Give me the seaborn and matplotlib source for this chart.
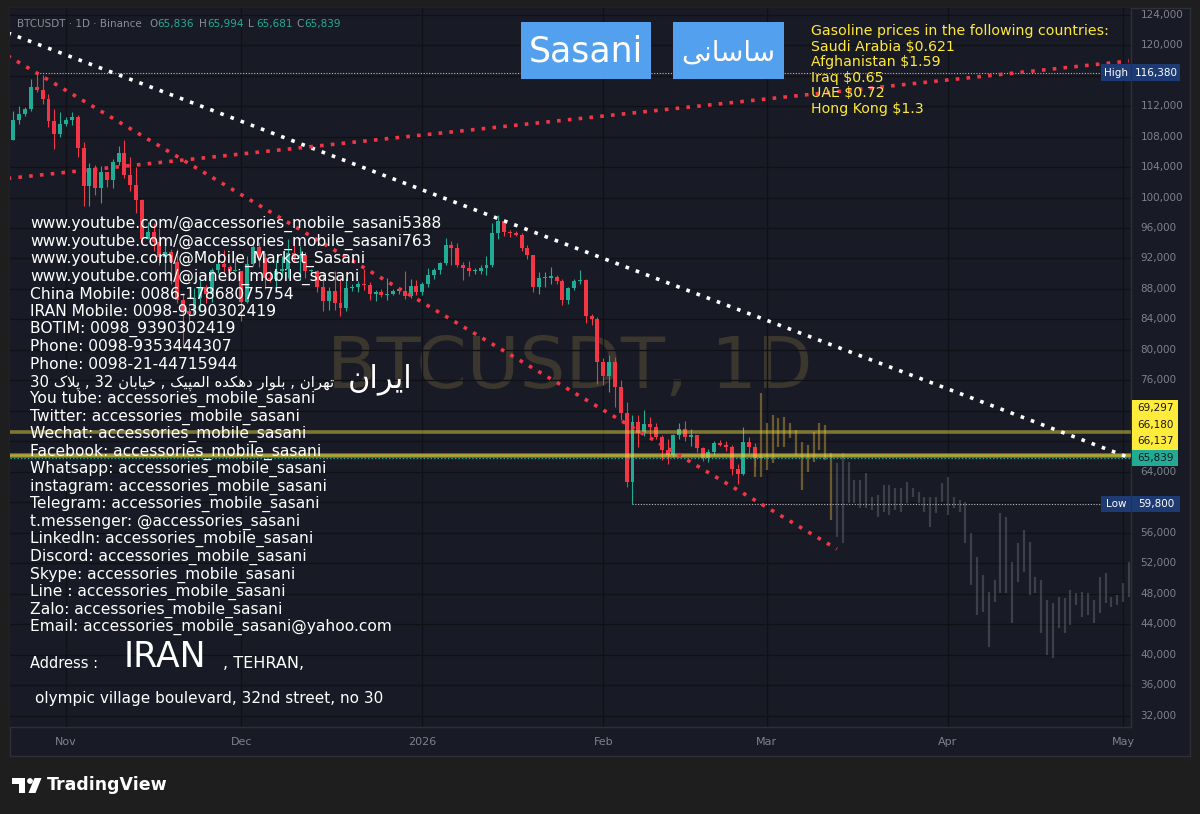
import re
import numpy as np
import pandas as pd
import matplotlib
matplotlib.use('Agg')
import matplotlib.pyplot as plt
from matplotlib.patches import Rectangle, Circle, Polygon
import seaborn as sns

# ---------------- data ----------------
candle_start = '2025-10-23'
opens = [107600, 110100, 111000, 111600, 114500, 114100, 112900, 110000, 108300,
         109600, 110100, 110500, 106500, 101500, 103900, 101300, 103300, 102300, 104700,
         105900, 103000, 101600, 99700, 94500, 95500, 94200, 92200, 92900, 91500,
         86600, 85100, 84700, 86800, 88300, 87300, 90500, 91300, 90900, 90400,
         90400, 86300, 91300, 93500, 92100, 89400, 89300, 90400, 90600, 92700,
         92000, 92500, 90300, 90300, 88200, 86400, 87800, 86100, 85500, 88100,
         88300, 88600, 88500, 87400, 87600, 87200, 87300, 87800, 87800, 87100, 88400,
         87600, 88700, 89900, 90500, 91400, 93800, 93400, 91100, 90700, 90300,
         90400, 90800, 91100, 95300, 96900, 95500, 95300, 95100, 93400, 92500,
         88300, 89400, 89500, 89600, 89100, 86500, 88100, 89000, 89200, 84400, 84100,
         78400, 76600, 78400, 75200, 71700, 62700, 70500, 69100, 70300, 69900,
         68600, 66900, 66200, 68800, 69600, 68600, 68800, 67100, 65900, 66600,
         67800, 67600, 67300, 64400, 63700, 67900, 67300, 65836]
highs = [111300, 112000, 111900, 115500, 116380, 116100, 113600, 111600, 111200,
         110600, 111200, 110800, 107300, 104500, 104200, 104100, 103400, 105000, 106700,
         107500, 105300, 104000, 99800, 96800, 96600, 96000, 93800, 93200, 93200,
         87500, 85600, 88100, 89200, 88500, 90700, 91900, 93100, 91200, 92000,
         90400, 92300, 94200, 94100, 92700, 90300, 91800, 92300, 94600, 94500,
         93600, 92800, 90600, 90500, 90100, 88200, 90400, 89500, 89400, 88600,
         89100, 90600, 88900, 87900, 88000, 89500, 88000, 88000, 90400, 89300, 89200,
         88900, 90700, 90800, 91600, 94700, 94300, 94000, 91600, 91700, 90700,
         91200, 92300, 96600, 97700, 97200, 95800, 95600, 95300, 93800, 92500,
         90200, 90200, 90900, 89900, 89300, 88300, 89300, 90500, 89300, 84700, 84300,
         79000, 79300, 79100, 76000, 73200, 71500, 71500, 72100, 71200, 70400,
         68900, 68300, 69000, 70400, 70700, 69600, 68900, 67300, 67000, 68000,
         68200, 68000, 67600, 65000, 69900, 68600, 67800, 65994]
lows = [107500, 109700, 110700, 111300, 113800, 112200, 109200, 106300, 108000,
        109400, 109500, 105300, 98900, 98900, 100300, 99300, 101400, 101300, 104300,
        102500, 100800, 98000, 94000, 94500, 93000, 91200, 89300, 88600, 86100,
        80600, 83500, 84600, 85300, 86100, 86300, 90100, 90200, 90300, 90300,
        83800, 86200, 91000, 90900, 88000, 88900, 87700, 89600, 89500, 91600,
        89300, 89500, 89800, 87600, 85100, 85300, 85300, 84500, 85100, 87800,
        87600, 87900, 86600, 86400, 86900, 86600, 87200, 87400, 86700, 86800, 87200,
        87200, 88300, 89300, 90000, 91100, 91100, 90900, 89200, 89700, 90000,
        90000, 89800, 90900, 94600, 94900, 94800, 94900, 93000, 91900, 87600,
        87300, 88200, 88700, 88700, 85900, 86000, 87900, 88600, 83600, 83300, 75500,
        75400, 74500, 72500, 70800, 62000, 59800, 67300, 68700, 68600, 68300,
        65600, 65000, 66000, 68300, 68100, 67400, 66600, 65500, 65300, 66200,
        67400, 66800, 63600, 62400, 63600, 66500, 64600, 65681]
closes = [110100, 111000, 111600, 114500, 114100, 112900, 110000, 108300, 109600,
          110100, 110500, 106500, 101500, 103900, 101300, 103300, 102300, 104700, 105900,
          103000, 101600, 99700, 94500, 95500, 94200, 92200, 92900, 91500, 86600,
          85100, 84700, 86800, 88300, 87300, 90500, 91300, 90900, 90400, 90400,
          86300, 91300, 93500, 92100, 89400, 89300, 90400, 90600, 92700, 92000,
          92500, 90300, 90300, 88200, 86400, 87800, 86100, 85500, 88100, 88300,
          88600, 88500, 87400, 87600, 87200, 87300, 87800, 87800, 87100, 88400, 87600,
          88700, 89900, 90500, 91400, 93800, 93400, 91100, 90700, 90300, 90400,
          90800, 91100, 95300, 96900, 95500, 95300, 95100, 93400, 92500, 88300,
          89400, 89500, 89600, 89100, 86500, 88100, 89000, 89200, 84400, 84100, 78400,
          76600, 78400, 75200, 71700, 62700, 70500, 69100, 70300, 69900, 68600,
          66900, 66200, 68800, 69600, 68600, 68800, 67100, 65900, 66600, 67800,
          67600, 67300, 64400, 63700, 67900, 67300, 65800, 65839]

ghost_start = '2026-02-27'
ghost_orange_highs = [66900, 74400, 70400, 71500, 71100, 71200, 70400, 69500, 67900, 67500,
                      69200, 70400, 70200, 66500]
ghost_orange_lows = [63300, 63300, 64300, 65200, 67300, 67300, 68500, 66200, 61600, 64000,
                     65300, 66900, 65600, 57700]
ghost_grey_highs = [65200, 66500, 65300, 63000, 63000, 63900, 60700, 61000, 62300, 62300,
                    61900, 61900, 62700, 61900, 61400, 60700, 60700, 60700, 62600, 63300,
                    60700, 60300, 60100, 56000, 52900, 50500, 48300, 49800, 58600, 58100,
                    52200, 54700, 56400, 54800, 50200, 49800, 47200, 46800, 47600, 47500,
                    48500, 48100, 48300, 48100, 47200, 50200, 50800, 47600, 47900, 49400, 52200]
ghost_grey_lows = [55500, 54700, 59900, 59900, 59300, 59300, 59000, 58100, 58800, 58400,
                   59000, 58800, 59900, 60700, 59900, 58800, 56800, 58600, 60100, 58400,
                   59300, 58800, 54700, 49200, 45200, 45600, 41000, 47000, 48100, 48100,
                   44200, 49600, 50900, 47900, 48100, 42900, 40000, 39600, 43500, 42900,
                   43900, 46600, 45000, 45200, 44200, 45500, 46800, 46300, 46600, 47000, 47600]

white_line_dates = ['2025-10-22', '2026-05-02']
white_line_prices = [121600, 65900]
red_down_dates = ['2025-10-22', '2026-03-13']
red_down_prices = [118600, 53900]
red_up_dates = ['2025-10-22', '2026-05-02']
red_up_prices = [102500, 117900]

level_prices = [69297, 66180, 66137]
current_price = 65839
high_price = 116380
low_price = 59800

price_ticks = list(range(32000, 124001, 4000))
month_dates = ['2025-11-01', '2025-12-01', '2026-01-01', '2026-02-01',
               '2026-03-01', '2026-04-01', '2026-05-01']
month_labels = ['Nov', 'Dec', '2026', 'Feb', 'Mar', 'Apr', 'May']

header_name = 'BTCUSDT · 1D · Binance'
ohlc_letters = ['O', 'H', 'L', 'C']
ohlc_values = ['65,836', '65,994', '65,681', '65,839']
watermark = 'BTCUSDT, 1D'

contact_lines = [
    'www.youtube.com/@accessories_mobile_sasani5388',
    'www.youtube.com/@accessories_mobile_sasani763',
    'www.youtube.com/@Mobile_Market_Sasani',
    'www.youtube.com/@janebi_mobile_sasani',
    'China Mobile: 0086-17868075754',
    'IRAN Mobile: 0098-9390302419',
    'BOTIM: 0098_9390302419',
    'Phone: 0098-9353444307',
    'Phone: 0098-21-44715944',
    '',
    'You tube: accessories_mobile_sasani',
    'Twitter: accessories_mobile_sasani',
    'Wechat: accessories_mobile_sasani',
    'Facebook: accessories_mobile_sasani',
    'Whatsapp: accessories_mobile_sasani',
    'instagram: accessories_mobile_sasani',
    'Telegram: accessories_mobile_sasani',
    't.messenger: @accessories_sasani',
    'Linkedln: accessories_mobile_sasani',
    'Discord: accessories_mobile_sasani',
    'Skype: accessories_mobile_sasani',
    'Line : accessories_mobile_sasani',
    'Zalo: accessories_mobile_sasani',
    'Email: accessories_mobile_sasani@yahoo.com',
]
persian_address = 'تهران , بلوار دهکده المپیک , خیابان 32 , پلاک 30'
persian_iran = 'ایران'
persian_brand = 'ساسانی'
brand_latin = 'Sasani'
address_label = 'Address :'
address_country = 'IRAN'
address_city = ', TEHRAN,'
address_en = 'olympic village boulevard, 32nd street, no 30'
gas_lines = ['Gasoline prices in the following countries:',
             'Saudi Arabia \\$0.621', 'Afghanistan \\$1.59', 'Iraq \\$0.65',
             'UAE \\$0.72', 'Hong Kong \\$1.3']

# ---------------- arabic shaping helper ----------------
AR_FORMS = {
    'ا': ('\uFE8D', '\uFE8E', None, None),
    'ب': ('\uFE8F', '\uFE90', '\uFE91', '\uFE92'),
    'پ': ('\uFB56', '\uFB57', '\uFB58', '\uFB59'),
    'ت': ('\uFE95', '\uFE96', '\uFE97', '\uFE98'),
    'خ': ('\uFEA5', '\uFEA6', '\uFEA7', '\uFEA8'),
    'د': ('\uFEA9', '\uFEAA', None, None),
    'ر': ('\uFEAD', '\uFEAE', None, None),
    'س': ('\uFEB1', '\uFEB2', '\uFEB3', '\uFEB4'),
    'ک': ('\uFB8E', '\uFB8F', '\uFB90', '\uFB91'),
    'ل': ('\uFEDD', '\uFEDE', '\uFEDF', '\uFEE0'),
    'م': ('\uFEE1', '\uFEE2', '\uFEE3', '\uFEE4'),
    'ن': ('\uFEE5', '\uFEE6', '\uFEE7', '\uFEE8'),
    'ه': ('\uFEE9', '\uFEEA', '\uFEEB', '\uFEEC'),
    'و': ('\uFEED', '\uFEEE', None, None),
    'ی': ('\uFBFC', '\uFBFD', '\uFBFE', '\uFBFF'),
}


def shape_rtl(s):
    out = []
    i, n = 0, len(s)
    prev_connect = False
    while i < n:
        ch = s[i]
        if ch == 'ل' and i + 1 < n and s[i + 1] == 'ا':
            out.append('\uFEFC' if prev_connect else '\uFEFB')
            prev_connect = False
            i += 2
            continue
        f = AR_FORMS.get(ch)
        if f is None:
            out.append(ch)
            prev_connect = False
            i += 1
            continue
        nxt = s[i + 1] if i + 1 < n else ''
        next_ok = f[2] is not None and nxt in AR_FORMS
        if prev_connect and next_ok:
            g = f[3]
        elif prev_connect:
            g = f[1]
        elif next_ok:
            g = f[2]
        else:
            g = f[0]
        out.append(g)
        prev_connect = next_ok
        i += 1
    vis = ''.join(reversed(out))
    return re.sub(r'[0-9]+', lambda m: m.group(0)[::-1], vis)


# ---------------- styling ----------------
sns.set_theme(style='dark')
plt.rcParams['font.family'] = ['DejaVu Sans']

W, H = 1200, 814
BG = '#181b25'
GRID = '#0f1116'
GREEN = '#22ab94'
RED = '#f23645'
AXIS_TXT = '#7f828c'

fig = plt.figure(figsize=(W / 100, H / 100), dpi=100)
fig.patch.set_facecolor('#1e1e1e')


def box(x0, y0, x1, y1):
    return [x0 / W, 1 - y1 / H, (x1 - x0) / W, (y1 - y0) / H]


panel = fig.add_axes(box(10, 8, 1190, 756))
panel.set_facecolor(BG)
panel.set_xticks([])
panel.set_yticks([])
for s in panel.spines.values():
    s.set_color('#2e3039')
    s.set_linewidth(1)

ax = fig.add_axes(box(10, 8, 1131, 727))
ax.set_facecolor(BG)
epoch = pd.Timestamp('2025-11-01')


def days(d):
    return (pd.to_datetime(d) - epoch).days


XMIN, XMAX = -9.59, 182.36
ax.set_xlim(XMIN, XMAX)
ax.set_ylim(30556, 124853)
for k in ['top', 'left']:
    ax.spines[k].set_visible(False)
for k in ['bottom', 'right']:
    ax.spines[k].set_color('#2e3039')
    ax.spines[k].set_linewidth(1)

ax.set_yticks(price_ticks)
ax.set_yticklabels([])
ax.tick_params(axis='y', length=0)
ax.set_xticks([days(d) for d in month_dates])
ax.set_xticklabels(month_labels)
ax.tick_params(axis='x', length=0, pad=7, labelsize=8, labelcolor=AXIS_TXT)
ax.grid(True, color=GRID, lw=1)
ax.set_axisbelow(True)

# watermark
ax.text(0.499, 0.499, watermark, transform=ax.transAxes, ha='center', va='center',
        fontsize=52, color='#3b372e', zorder=0.5)

# ghost bars pattern
g0 = days(ghost_start)
gx_orange = np.arange(g0, g0 + len(ghost_orange_highs))
gx_grey = np.arange(g0 + len(ghost_orange_highs),
                    g0 + len(ghost_orange_highs) + len(ghost_grey_highs))
ax.vlines(gx_orange, ghost_orange_lows, ghost_orange_highs, color='#d4a63a', alpha=0.45,
          lw=1.6, zorder=1.5)
ax.vlines(gx_grey, ghost_grey_lows, ghost_grey_highs, color='#9598a1', alpha=0.3,
          lw=1.6, zorder=1.5)

# candles
c0 = days(candle_start)
cx = np.arange(c0, c0 + len(opens))
o = np.array(opens, float); c = np.array(closes, float)
hi = np.array(highs, float); lo = np.array(lows, float)
cols = np.where(c >= o, GREEN, RED)
ax.vlines(cx, lo, hi, colors=cols, lw=0.8, zorder=3)
body_h = np.maximum(np.abs(c - o), 140)
ax.bar(cx, body_h, bottom=np.minimum(o, c), width=0.68, color=cols, lw=0, zorder=3.2)

# high / low / current lines
ih = int(np.argmax(hi)); il = int(np.argmin(lo))
ax.hlines(high_price, cx[ih], XMAX, color='#b8bbc4', lw=0.8, linestyles=(0, (1, 1.5)), zorder=2)
ax.hlines(low_price, cx[il], XMAX, color='#b8bbc4', lw=0.8, linestyles=(0, (1, 1.5)), zorder=2)
for lp in level_prices:
    ax.axhline(lp, color='#e2d23e', alpha=0.5, lw=2.6, zorder=3.5)
ax.axhline(current_price, color=GREEN, lw=1.0, linestyle=(0, (1, 1.5)), zorder=3.6)

# trend lines (dotted squares)
for dts, prs, col in [(white_line_dates, white_line_prices, 'white'),
                      (red_down_dates, red_down_prices, RED),
                      (red_up_dates, red_up_prices, RED)]:
    ax.plot([days(d) for d in dts], prs, color=col, lw=2.6, linestyle=(0, (1, 2)),
            dash_capstyle='butt', zorder=4, clip_on=True)

# ---------------- right price scale ----------------
ytr = ax.get_yaxis_transform()
px_price = (ax.get_ylim()[1] - ax.get_ylim()[0]) / 719.0   # price per pixel
px_ax = 1.0 / 1121.0                                        # axes fraction per pixel
LH = 16.5 * px_price

boxes = []   # (price, x0px, x1px, text, fc, tc)
boxes.append((current_price, 1132, 1178, f'{current_price:,}', GREEN, '#131722'))
pos = current_price
for lp in sorted(level_prices):
    pos = max(lp, pos + LH)
    boxes.append((pos, 1132, 1178, f'{lp:,}', '#ffeb3b', '#131722'))
boxes.append((high_price, 1132, 1180, f'{high_price:,}', '#1d3a72', 'white'))
boxes.append((high_price, 1101, 1131, 'High', '#1d3a72', 'white'))
boxes.append((low_price, 1132, 1180, f'{low_price:,}', '#1d3a72', 'white'))
boxes.append((low_price, 1101, 1131, 'Low', '#1d3a72', 'white'))

covered = [b[0] for b in boxes if b[1] >= 1132]
for v in price_ticks:
    if any(abs(v - p) < LH / 2 + 4 * px_price for p in covered):
        continue   # hidden behind a price label, as on the reference
    ax.text(1.0085, v, f'{v:,}', transform=ytr, ha='left', va='center', fontsize=7.5,
            color=AXIS_TXT, clip_on=False, zorder=5)

for price, x0px, x1px, text, fc, tc in boxes:
    ax.add_patch(Rectangle(((x0px - 10) * px_ax, price - LH / 2), (x1px - x0px) * px_ax, LH,
                           transform=ytr, facecolor=fc, edgecolor='none', clip_on=False,
                           zorder=6))
    ax.text(((x0px + x1px) / 2 - 10) * px_ax, price, text, transform=ytr, ha='center',
            va='center', fontsize=7.5, color=tc, clip_on=False, zorder=7)

# ---------------- overlay (pixel coordinates) ----------------
ov = fig.add_axes([0, 0, 1, 1])
ov.set_xlim(0, W)
ov.set_ylim(H, 0)
ov.axis('off')
ov.set_zorder(10)

# header
ov.text(17, 24, header_name, fontsize=7.5, color='#8b8e97', va='center', ha='left')
for k, (lt, vv) in enumerate(zip(ohlc_letters, ohlc_values)):
    xs = [149, 199, 248, 296][k]
    ov.text(xs, 24, lt, fontsize=7.5, color='#8b8e97', va='center', ha='left')
    ov.text(xs + 8, 24, vv, fontsize=7.5, color=GREEN, va='center', ha='left')

# brand boxes
ov.add_patch(Rectangle((521, 22), 130, 57, facecolor='#52a0ee', edgecolor='none'))
ov.text(586, 51, brand_latin, fontsize=25, color='white', ha='center', va='center')
ov.add_patch(Rectangle((673, 22), 111, 57, facecolor='#52a0ee', edgecolor='none'))
ov.text(728, 53, shape_rtl(persian_brand), fontsize=20, color='white', ha='center',
        va='center', family=['DejaVu Sans'])

# gasoline text
for k, t in enumerate(gas_lines):
    ov.text(811, 31 + k * 15.6, t, fontsize=10.2, color='#ffe93b', ha='left', va='center')

# contact block
for k, t in enumerate(contact_lines):
    if t:
        ov.text(30, 224 + k * 17.52, t, fontsize=11.2, color='white', ha='left', va='center')
ov.text(30, 383, shape_rtl(persian_address), fontsize=10.7, color='white', ha='left',
        va='center', family=['DejaVu Sans'])
ov.text(348, 379, shape_rtl(persian_iran), fontsize=22, color='white', ha='left',
        va='center', family=['DejaVu Sans'])
ov.text(30, 663, address_label, fontsize=10.5, color='white', ha='left', va='center')
ov.text(124, 657, address_country, fontsize=25, color='white', ha='left', va='center')
ov.text(223, 664, address_city, fontsize=11.5, color='white', ha='left', va='center')
ov.text(35, 698, address_en, fontsize=11, color='white', ha='left', va='center')

# TradingView logo
ov.add_patch(Polygon([(12, 778), (25, 778), (25, 793), (18.5, 793), (18.5, 783.5), (12, 783.5)],
                     closed=True, facecolor='white', edgecolor='none'))
ov.add_patch(Circle((30, 781), 2.9, facecolor='white', edgecolor='none'))
ov.add_patch(Polygon([(34.5, 778), (41.5, 778), (35.5, 793), (28.5, 793)], closed=True,
                     facecolor='white', edgecolor='none'))
ov.text(47, 785, 'TradingView', fontsize=12.5, weight='bold', color='white', ha='left',
        va='center')

fig.savefig('out.png', dpi=100, facecolor=fig.get_facecolor())
